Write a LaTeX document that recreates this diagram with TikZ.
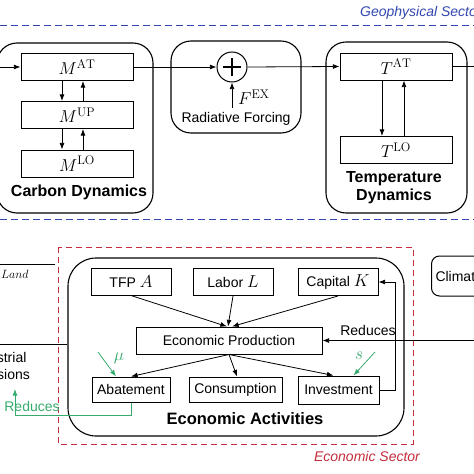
\documentclass[tikz,border=0pt]{standalone}
\usepackage{amsmath}
\usepackage{fontspec}
\newfontfamily\arial{Liberation Sans}
\usetikzlibrary{arrows.meta, calc}
\DeclareMathSizes{14}{16.5}{12.5}{10}

\definecolor{geoblue}{RGB}{50,70,175}
\definecolor{ecored}{RGB}{195,45,60}
\definecolor{ctrlgreen}{RGB}{55,170,110}

\tikzset{
  blk/.style={draw, line width=1pt, minimum height=27pt, inner sep=0pt, font=\arial\fontsize{14}{17}\selectfont},
  grp/.style={draw, line width=1.1pt, rounded corners=20pt},
  lbl/.style={font=\arial\fontsize{14}{17}\selectfont, inner sep=0pt, align=center},
  hdr/.style={font=\arial\bfseries\fontsize{16}{18}\selectfont, inner sep=0pt, align=center},
  sector/.style={font=\arial\itshape\fontsize{14}{17}\selectfont, inner sep=0pt},
  flow/.style={->, >=Latex, line width=0.8pt},
  ctrl/.style={->, >=Latex, line width=0.8pt, ctrlgreen},
}

\begin{document}
\begin{tikzpicture}[x=1pt, y=-1pt]
    \useasboundingbox (0,0) rectangle (474,474);
    \clip (0,0) rectangle (474,474);

    % Geophysical sector
    \draw[geoblue, line width=1pt, dash pattern=on 7pt off 4pt] (0,25) -- (474,25);
    \draw[geoblue, line width=1pt, dash pattern=on 7pt off 4pt] (0,219) -- (474,219);
    \node[sector, text=geoblue, anchor=west] (geolbl) at (360,13) {Geophysical Sector};

    % Carbon dynamics
    \node[grp, minimum width=156pt, minimum height=170pt] (carbon) at (75,128) {};
    \node[blk, minimum width=112pt] (mat) at (77,67) {$M^{\mathrm{AT}}$};
    \node[blk, minimum width=112pt] (mup) at (77,115) {$M^{\mathrm{UP}}$};
    \node[blk, minimum width=112pt] (mlo) at (77,163.5) {$M^{\mathrm{LO}}$};
    \node[hdr] (carblbl) at (79,192) {Carbon Dynamics};
    \draw[flow] ([xshift=-15pt]mat.south) -- ([xshift=-15pt]mup.north);
    \draw[flow] ([xshift=6pt]mup.north) -- ([xshift=6pt]mat.south);
    \draw[flow] ([xshift=-15pt]mup.south) -- ([xshift=-15pt]mlo.north);
    \draw[flow] ([xshift=6pt]mlo.north) -- ([xshift=6pt]mup.south);

    % Radiative forcing
    \node[grp, minimum width=130pt, minimum height=92pt] (radf) at (236,87) {};
    \node[draw, circle, line width=1pt, minimum size=30pt, inner sep=0pt] (sum) at (232,67) {};
    \draw[line width=2.6pt] ([xshift=-9pt]sum.center) -- ([xshift=9pt]sum.center);
    \draw[line width=2.6pt] ([yshift=-9pt]sum.center) -- ([yshift=9pt]sum.center);
    \coordinate (fexin) at (232,108);
    \draw[flow] (fexin) -- (sum.south);
    \node[anchor=west, inner sep=0pt, font=\fontsize{14}{17}\selectfont] (fex) at (238,97) {$F^{\mathrm{EX}}$};
    \node[lbl] (radlbl) at (236,119) {Radiative Forcing};

    % Temperature dynamics
    \node[grp, minimum width=141pt, minimum height=171pt] (temp) at (396.5,127.5) {};
    \node[blk, minimum width=112pt] (tat) at (396,66.5) {$T^{\mathrm{AT}}$};
    \node[blk, minimum width=112pt] (tlo) at (396,150) {$T^{\mathrm{LO}}$};
    \node[hdr] (templbl) at (394,188) {Temperature\\Dynamics};
    \draw[flow] ([xshift=-14pt]tat.south) -- ([xshift=-14pt]tlo.north);
    \draw[flow] ([xshift=8pt]tlo.north) -- ([xshift=8pt]tat.south);

    % Main chain
    \coordinate (cin) at (0,67);
    \coordinate (tout) at (474,66.5);
    \draw[flow] (cin) -- (mat.west);
    \draw[flow] (mat.east) -- (sum.west);
    \draw[flow] (sum.east) -- (tat.west);
    \draw[line width=0.8pt] (tat.east) -- (tout);

    % Economic sector
    \draw[ecored, line width=1pt, dash pattern=on 6pt off 4pt] (58,247) rectangle (413,444);
    \node[sector, text=ecored] (ecolbl) at (367,456) {Economic Sector};

    \node[grp, rounded corners=28pt, minimum width=336pt, minimum height=178pt] (ecoact) at (236,347) {};
    \node[hdr, font=\arial\bfseries\fontsize{16.5}{18}\selectfont] (ecolbl2) at (245,419) {Economic Activities};

    \node[blk, minimum width=80pt] (tfp) at (131,281.5) {TFP $A$};
    \node[blk, minimum width=80pt] (lab) at (233,282) {Labor $L$};
    \node[blk, minimum width=80pt] (cap) at (338,282) {Capital $K$};
    \node[blk, minimum width=186pt] (ep) at (229,340.5) {Economic Production};
    \node[blk, minimum width=78pt, minimum height=25pt] (abat) at (131,389.5) {Abatement};
    \node[blk, minimum width=93pt, minimum height=25pt] (cons) at (235.5,389.5) {Consumption};
    \node[blk, minimum width=81pt, minimum height=28pt] (inv) at (338.5,390) {Investment};

    \draw[flow] (tfp.south) -- ([xshift=-2pt]ep.north);
    \draw[flow] (lab.south) -- ([xshift=-1pt]ep.north);
    \draw[flow] (cap.south) -- ([xshift=3pt]ep.north);
    \draw[flow] (ep.south) -- (abat.north);
    \draw[flow] (ep.south) -- ([xshift=1.5pt]cons.north);
    \draw[flow] (ep.south) -- ([xshift=-5pt]inv.north);
    \draw[flow] (inv.east) -- ++(16,0) |- (cap.east);

    % Damages
    \node[draw, line width=1pt, rounded corners=8pt, anchor=west, minimum height=40pt, text width=80pt, align=left, inner sep=4pt, font=\arial\fontsize{14}{17}\selectfont] (clim) at (431,276) {Climate};
    \coordinate (dmg) at (474,340.5);
    \draw[flow] (dmg) -- (ep.east) node[lbl, pos=0.7, above=4pt] {Reduces};

    % Controls
    \coordinate (sin) at (375,352);
    \draw[ctrl] (sin) -- ([xshift=15pt]inv.north);
    \node[text=ctrlgreen, inner sep=0pt, font=\fontsize{14}{17}\selectfont] (slbl) at (359,356) {$s$};
    \coordinate (muin) at (98,352);
    \draw[ctrl] (muin) -- ([xshift=-15pt]abat.north);
    \node[text=ctrlgreen, inner sep=0pt, font=\fontsize{14}{17}\selectfont] (mulbl) at (119,358) {$\mu$};

    % Emissions side
    \node[lbl] (indem) at (-2,365.5) {Industrial\\Emissions};
    \coordinate (emleft) at (0,344);
    \draw[line width=0.8pt] (ecoact.west |- emleft) -- (emleft);
    \coordinate (landl) at (0,264);
    \coordinate (landr) at (55,264);
    \draw[line width=0.8pt] (landl) -- (landr);
    \node[anchor=west, inner sep=0pt, font=\fontsize{13}{15}\selectfont] (land) at (1,274) {$Land$};
    \coordinate (redtip) at (15,389);
    \draw[ctrl] (abat.south) -- ++(0,13) -| (redtip);
    \node[lbl, text=ctrlgreen] (redlbl) at (32,406) {Reduces};

\end{tikzpicture}
\end{document}
